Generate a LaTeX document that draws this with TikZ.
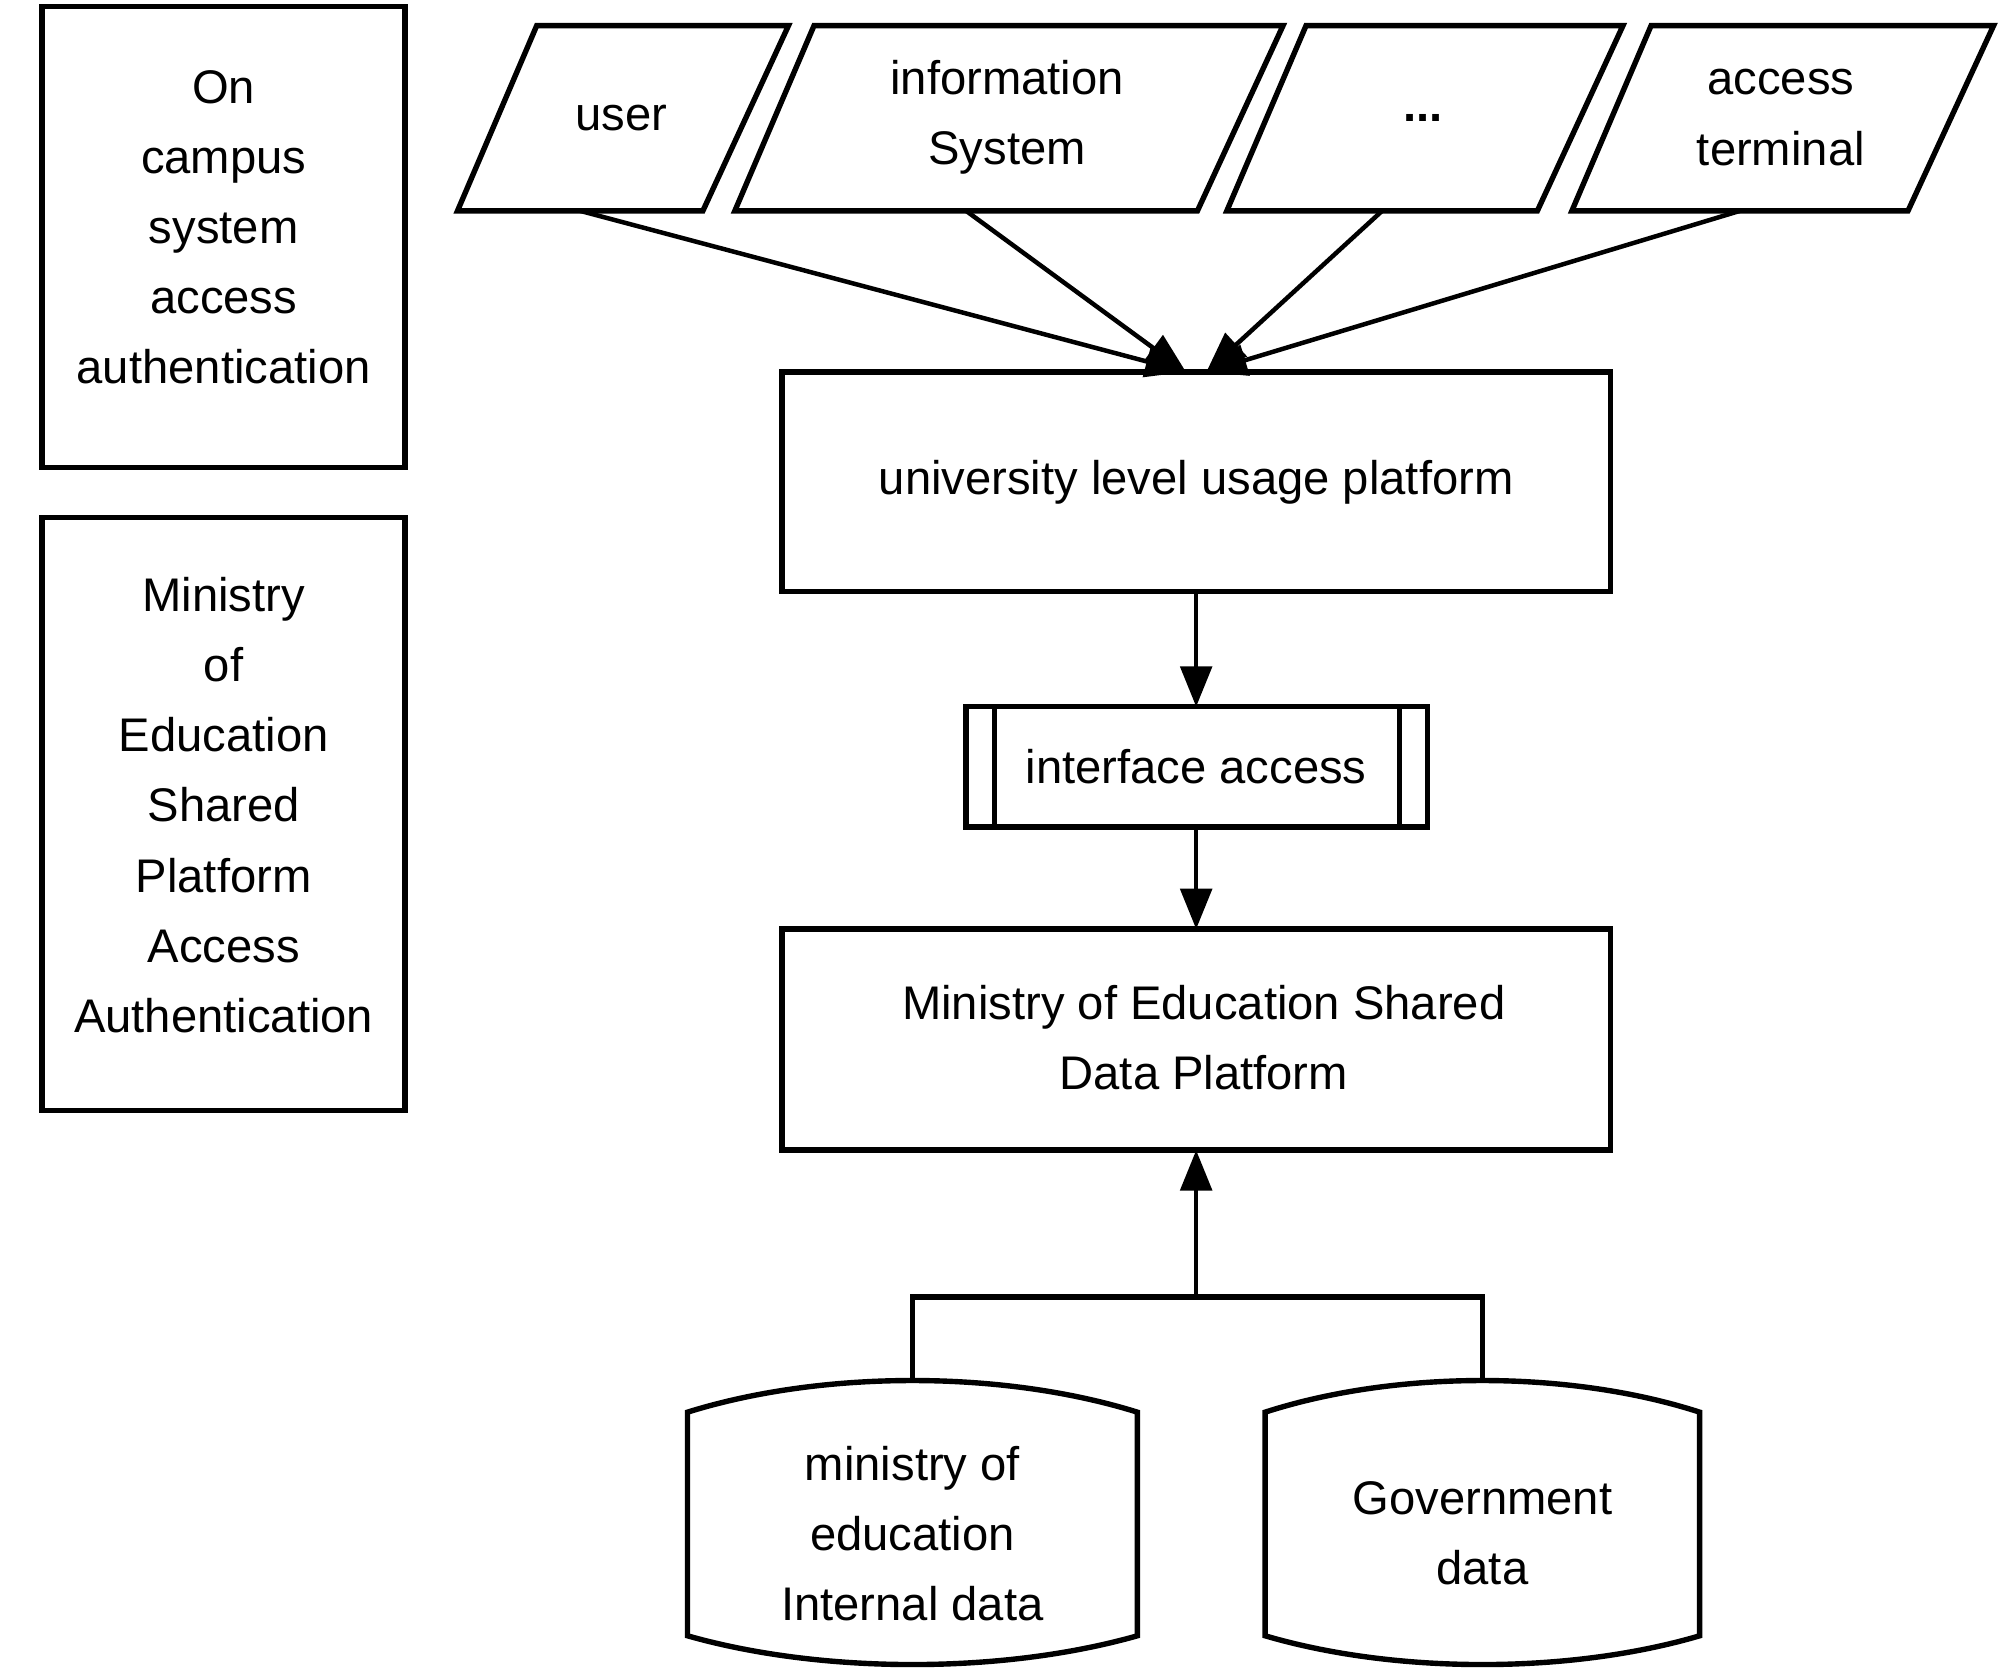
\documentclass[tikz,border=0pt]{standalone}
\usepackage{fontspec}
\setmainfont{Liberation Sans}
\usetikzlibrary{arrows.meta}

\tikzset{
  line/.style={draw, line width=1.2pt},
  arr/.style={line width=1pt, -{Triangle[length=9pt,width=7pt]}},
  lbl/.style={align=center, font=\fontsize{10.5}{15.6}\selectfont, inner sep=0pt},
}
% parallelogram from bottom-left x, bottom-right x
\newcommand{\slanted}[4]{%
  \draw[line] (#1,165) -- (#1+62,20) -- (#2+67,20) -- (#2,165) -- cycle;
  \node[lbl] (#3) at ({(#1+#2)/2+32},92) {#4};
  \coordinate (#3-b) at ({(#1+#2)/2},165);}
% drum from left x, right x
\newcommand{\drum}[4]{%
  \draw[line] (#1,1105) .. controls ({#1+(#2-#1)*0.3},1072) and ({#2-(#2-#1)*0.3},1072) .. (#2,1105)
    -- (#2,1280) .. controls ({#2-(#2-#1)*0.3},1310) and ({#1+(#2-#1)*0.3},1310) .. (#1,1280) -- cycle;
  \coordinate (#3-t) at ({(#1+#2)/2},1081);
  \node[lbl] (#3) at ({(#1+#2)/2},1200) {#4};}

\begin{document}
\begin{tikzpicture}[x=0.01cm, y=-0.01cm]
  \useasboundingbox (0,0) rectangle (1565,1305);

  % left side boxes
  \draw[line] (33,5) rectangle (317,366);
  \node[lbl] (campus) at (175,178) {On\\campus\\system\\access\\authentication};
  \draw[line] (33,405) rectangle (317,869);
  \node[lbl] (moeauth) at (175,630) {Ministry\\of\\Education\\Shared\\Platform\\Access\\Authentication};

  % top inputs
  \slanted{358}{550}{user}{user}
  \slanted{575}{937}{info}{information\\System}
  \slanted{960}{1203}{dots}{\textbf{...}}
  \slanted{1230}{1493}{term}{access\\terminal}

  % main chain
  \draw[line] (612,291) rectangle (1260,463);
  \node[lbl] (uni) at (936,377) {university level usage platform};
  \draw[line] (756,553) rectangle (1117,647);
  \draw[line] (778,553) -- (778,647) (1095,553) -- (1095,647);
  \node[lbl] (iface) at (936,600) {interface access};
  \draw[line] (612,727) rectangle (1260,900);
  \node[lbl] (shared) at (942,812) {Ministry of Education Shared\\Data Platform};

  \coordinate (uni-n1) at (928,291);
  \coordinate (uni-n2) at (944,291);
  \draw[arr] (user-b) -- (uni-n1);
  \draw[arr] (info-b) -- (uni-n1);
  \draw[arr] (dots-b) -- (uni-n2);
  \draw[arr] (term-b) -- (uni-n2);
  \draw[arr] (936,463) -- (936,553);
  \draw[arr] (936,647) -- (936,727);

  % data sources
  \drum{538}{890}{moedata}{ministry of\\education\\Internal data}
  \drum{990}{1330}{gov}{Government\\data}
  \coordinate (join) at (936,1015);
  \draw[line] (moedata-t) |- (join) -| (gov-t);
  \draw[arr] (join) -- (936,900);
\end{tikzpicture}
\end{document}
